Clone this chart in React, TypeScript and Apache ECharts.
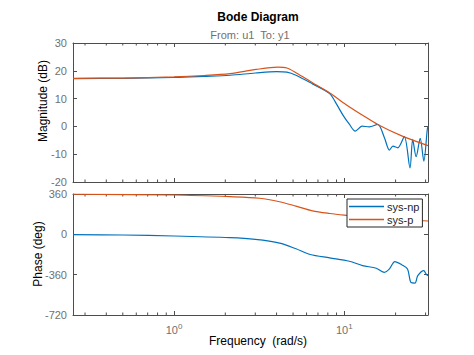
import React, { useEffect, useRef } from "react";
import * as echarts from "echarts";

// ---- data ----
const freqMin = 0.255;
const freqMax = 31;

const freqMagP = [0.255, 0.5, 1, 1.5, 2.13, 3.04, 4.07, 4.6, 5.2, 6.5, 8.17, 10.2, 12.8, 15.7, 21.9, 31];
const magP = [17.3, 17.4, 17.8, 18.3, 19.0, 20.5, 21.3, 21.0, 19.3, 15.7, 12.1, 7.9, 4.0, 0.7, -3.5, -6.9];

const freqMagNp = [0.255, 0.5, 1, 1.5, 2.13, 3.0, 4.0, 4.6, 5.2, 6.5, 8.2, 9.0, 9.9, 10.7, 11.6, 12.7, 14.0, 15.7, 17.2, 18.4, 19.3, 20.6, 22.5, 24.3, 25.2, 26.4, 27.9, 29.3, 30.7, 31];
const magNp = [17.2, 17.3, 17.6, 18.0, 18.4, 19.2, 19.7, 19.5, 18.4, 15.3, 11.8, 8.0, 3.7, 0.8, -1.7, 0.1, -0.2, 0.7, -4.1, -8.5, -7.1, -7.7, -3.7, -14.9, -4.7, -10.9, -4.3, -12.5, -1.1, 0];

const freqPhP = [0.255, 1, 2.13, 3.18, 4.17, 5.2, 6.5, 8.2, 10, 12.8, 17.5, 31];
const phaseP = [358, 351, 336, 322, 291, 252, 210, 186, 171, 156, 141, 119];

const freqPhNp = [0.255, 0.5, 1, 2.13, 3.0, 4.17, 5.2, 6.3, 8.2, 10.7, 12.8, 15.4, 17.2, 18.4, 19.8, 21.8, 23.5, 24.6, 26, 27, 29.3, 30.2, 31];
const phaseNp = [-2, -6, -15, -30, -45, -78, -129, -180, -210, -240, -279, -303, -339, -309, -243, -273, -309, -429, -435, -369, -324, -354, -369];

const minorFreqs = [0.3, 0.4, 0.5, 0.6, 0.7, 0.8, 0.9, 2, 3, 4, 5, 6, 7, 8, 9, 20, 30];

const magTicks = { min: -20, max: 30, interval: 10 };
const phaseTicks = { min: -720, max: 360, interval: 360 };

const seriesNames = ["sys-np", "sys-p"];
const colors = ["#0072BD", "#D95319"];

const FONT = "'Liberation Sans', Arial, Helvetica, sans-serif";
const AXIS_COLOR = "#4d4d4d";
const LABEL_COLOR = "#707070";

function pairs(xs: number[], ys: number[]) {
  return xs.map((x, i) => [x, ys[i]]);
}

export default function App() {
  const ref = useRef<HTMLDivElement>(null);
  useEffect(() => {
    document.body.style.margin = "0";
    const chart = echarts.init(ref.current!, null, { renderer: "svg" });

    const axisLine = { show: true, onZero: false, lineStyle: { color: AXIS_COLOR, width: 1 } };
    const xBase = (gridIndex: number, position: string, labels: boolean) => ({
      type: "log",
      logBase: 10,
      gridIndex,
      position,
      min: freqMin,
      max: freqMax,
      axisLine,
      axisTick: { show: true, inside: true, length: 4, lineStyle: { color: AXIS_COLOR } },
      splitLine: { show: false },
      axisLabel: labels
        ? {
            show: true,
            margin: 7,
            fontFamily: FONT,
            formatter: (v: number) => {
              const e = Math.round(Math.log10(v));
              if (Math.abs(Math.pow(10, e) - v) > 1e-6 * v) return "";
              return "{b|10}{s|" + e + "}";
            },
            rich: {
              b: { fontSize: 11, color: LABEL_COLOR, fontFamily: FONT },
              s: { fontSize: 8, color: LABEL_COLOR, fontFamily: FONT, padding: [0, 0, 8, 0] },
            },
          }
        : { show: false },
    });
    const yBase = (gridIndex: number, position: string, t: any, labels: boolean) => ({
      type: "value",
      gridIndex,
      position,
      min: t.min,
      max: t.max,
      interval: t.interval,
      axisLine,
      axisTick: { show: true, inside: true, length: 4, lineStyle: { color: AXIS_COLOR } },
      splitLine: { show: false },
      axisLabel: labels
        ? { show: true, margin: 6, fontSize: 11, color: LABEL_COLOR, fontFamily: FONT }
        : { show: false },
    });

    const minorTickSeries = (xi: number, yi: number, t: any) => ({
      type: "custom",
      xAxisIndex: xi,
      yAxisIndex: yi,
      silent: true,
      clip: false,
      data: minorFreqs.map((f) => [f, t.min]),
      renderItem: (params: any, api: any) => {
        const f = api.value(0);
        const b = api.coord([f, t.min]);
        const tp = api.coord([f, t.max]);
        const st = { stroke: AXIS_COLOR, lineWidth: 1 };
        return {
          type: "group",
          children: [
            { type: "line", shape: { x1: b[0], y1: b[1], x2: b[0], y2: b[1] - 2.5 }, style: st },
            { type: "line", shape: { x1: tp[0], y1: tp[1], x2: tp[0], y2: tp[1] + 2.5 }, style: st },
          ],
        };
      },
    });

    const lineSeries = (name: string, color: string, data: number[][], xi: number, yi: number) => ({
      type: "line",
      name,
      xAxisIndex: xi,
      yAxisIndex: yi,
      data,
      symbol: "none",
      smooth: 0.3,
      lineStyle: { color, width: 1.2 },
      itemStyle: { color },
      z: 3,
    });

    chart.setOption({
      animation: false,
      backgroundColor: "#ffffff",
      textStyle: { fontFamily: FONT },
      grid: [
        { left: 73, top: 43, width: 355, height: 139 },
        { left: 73, top: 194, width: 355, height: 121 },
      ],
      xAxis: [
        xBase(0, "bottom", false),
        xBase(0, "top", false),
        xBase(1, "bottom", true),
        xBase(1, "top", false),
      ],
      yAxis: [
        yBase(0, "left", magTicks, true),
        yBase(0, "right", magTicks, false),
        yBase(1, "left", phaseTicks, true),
        yBase(1, "right", phaseTicks, false),
      ],
      legend: {
        data: seriesNames,
        orient: "vertical",
        left: 347,
        top: 199,
        padding: [1, 3, 1, 2],
        itemGap: 0,
        icon: "rect",
        itemWidth: 35,
        itemHeight: 1.3,
        backgroundColor: "#ffffff",
        borderColor: "#262626",
        borderWidth: 1,
        borderRadius: 0,
        textStyle: { fontSize: 11, lineHeight: 13, color: "#262626", fontFamily: FONT, padding: [0, 0, 0, -2] },
      },
      graphic: [
        {
          type: "text",
          x: 258,
          y: 17,
          style: { text: "Bode Diagram", fontSize: 12, fontWeight: "bold", fill: "#000", fontFamily: FONT, align: "center", verticalAlign: "middle" },
        },
        {
          type: "text",
          x: 250,
          y: 35,
          style: { text: "From: u1  To: y1", fontSize: 11, fill: LABEL_COLOR, fontFamily: FONT, align: "center", verticalAlign: "middle" },
        },
        {
          type: "text",
          x: 43,
          y: 101,
          rotation: Math.PI / 2,
          style: { text: "Magnitude (dB)", fontSize: 12, fill: "#000", fontFamily: FONT, align: "center", verticalAlign: "middle" },
        },
        {
          type: "text",
          x: 38,
          y: 254,
          rotation: Math.PI / 2,
          style: { text: "Phase (deg)", fontSize: 12, fill: "#000", fontFamily: FONT, align: "center", verticalAlign: "middle" },
        },
        {
          type: "text",
          x: 258,
          y: 341,
          style: { text: "Frequency  (rad/s)", fontSize: 12, fill: "#000", fontFamily: FONT, align: "center", verticalAlign: "middle" },
        },
      ],
      series: [
        lineSeries(seriesNames[0], colors[0], pairs(freqMagNp, magNp), 0, 0),
        lineSeries(seriesNames[1], colors[1], pairs(freqMagP, magP), 0, 0),
        lineSeries(seriesNames[0], colors[0], pairs(freqPhNp, phaseNp), 2, 2),
        lineSeries(seriesNames[1], colors[1], pairs(freqPhP, phaseP), 2, 2),
        minorTickSeries(0, 0, magTicks),
        minorTickSeries(2, 2, phaseTicks),
      ],
    });
    return () => chart.dispose();
  }, []);
  return <div ref={ref} style={{ width: 474, height: 355 }} />;
}
